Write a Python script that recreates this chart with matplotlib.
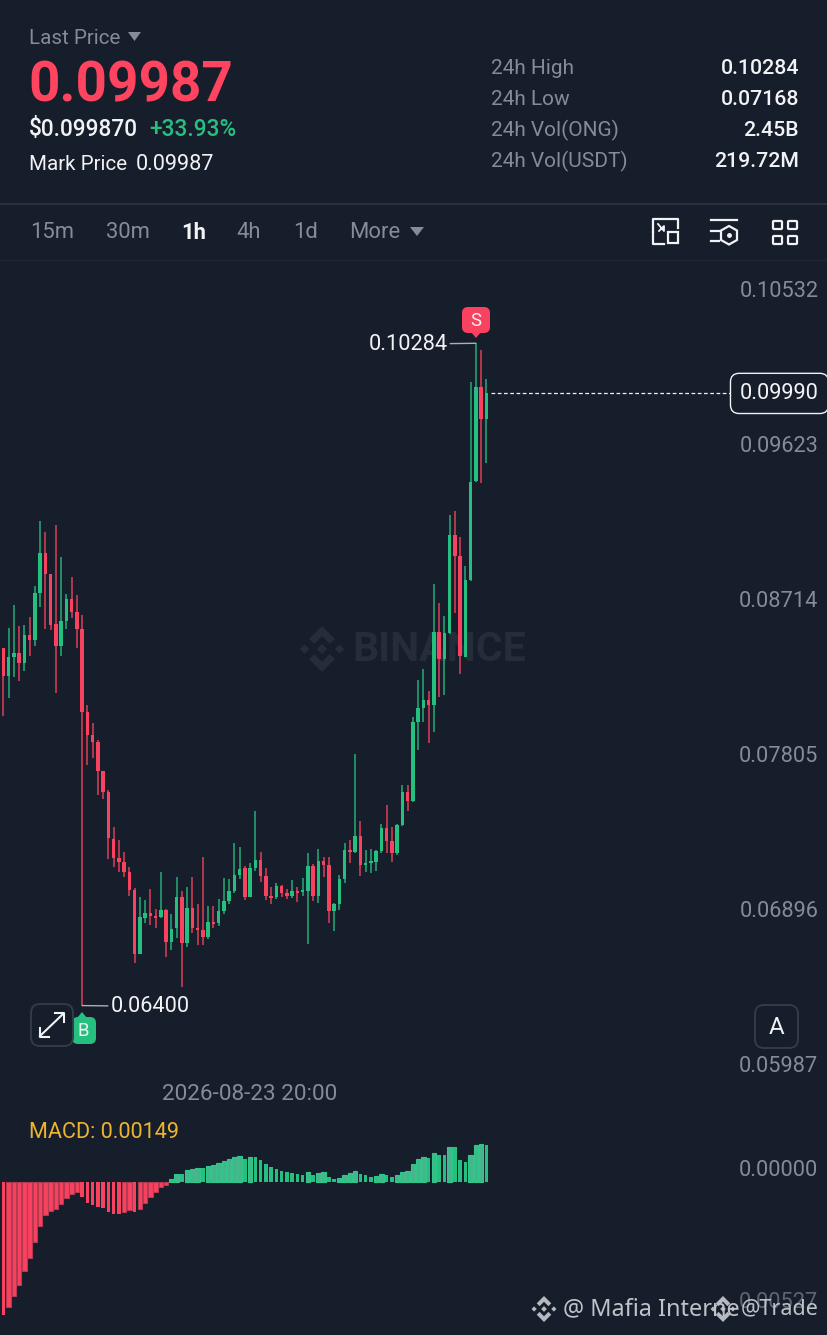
import matplotlib
matplotlib.use('Agg')
from matplotlib import pyplot as plt
from matplotlib.patches import FancyBboxPatch, Polygon, Rectangle
from matplotlib.transforms import blended_transform_factory
import numpy as np

opens = [.08497,.08333,.08445,.08468,.08409,.08574,.08544,.08820,.09054,.08932,
         .08639,.08509,.08656,.08785,.08708,.08609,.08121,.07987,.07946,.07776,
         .07652,.07377,.07265,.07242,.07183,.07078,.06703,.06914,.06943,.06926,
         .06920,.06961,.06773,.06855,.07037,.06767,.06972,.06855,.06843,.06802,
         .06890,.06884,.06955,.07013,.07072,.07166,.07207,.07037,.07207,.07254,
         .07160,.07043,.07037,.07102,.07060,.07043,.07072,.07066,.07072,.07219,
         .07043,.07248,.07225,.06955,.06996,.07142,.07312,.07300,.07395,.07225,
         .07236,.07242,.07306,.07441,.07365,.07294,.07459,.07652,.07600,.08063,
         .08145,.08192,.08163,.08591,.08433,.08585,.09160,.09037,.08445,.08896,
         .09476,.10027,.09840]
highs = [.08497,.08615,.08750,.08627,.08633,.08679,.08861,.09242,.09177,.08932,
         .09219,.09031,.08815,.08914,.08809,.08691,.08163,.08057,.07958,.07776,
         .07664,.07447,.07371,.07300,.07213,.07090,.07037,.07019,.07084,.06966,
         .07183,.06966,.06938,.07154,.07072,.07096,.07154,.06996,.07271,.06984,
         .06984,.07025,.07148,.07142,.07353,.07330,.07219,.07236,.07541,.07300,
         .07207,.07096,.07119,.07108,.07084,.07137,.07096,.07148,.07294,.07231,
         .07318,.07271,.07271,.07001,.07166,.07353,.07371,.07876,.07482,.07312,
         .07318,.07312,.07465,.07577,.07447,.07465,.07694,.07694,.08092,.08310,
         .08374,.08245,.08873,.08761,.08685,.09277,.09300,.09148,.08978,.10056,
         .10284,.10244,.10074]
lows = [.08098,.08204,.08327,.08304,.08362,.08451,.08509,.08738,.08609,.08603,
        .08233,.08451,.08609,.08673,.08497,.06400,.07811,.07852,.07635,.07611,
        .07259,.07213,.07183,.07154,.07043,.06649,.06703,.06884,.06873,.06855,
        .06914,.06685,.06726,.06796,.06509,.06744,.06825,.06756,.06756,.06790,
        .06855,.06867,.06938,.06996,.07060,.07142,.07019,.07037,.07189,.07125,
        .07019,.06996,.07025,.07037,.07025,.07031,.07007,.07043,.06762,.07013,
        .07001,.07154,.06884,.06837,.06961,.07119,.07236,.07294,.07160,.07183,
        .07177,.07189,.07294,.07294,.07242,.07283,.07453,.07541,.07594,.07899,
        .08063,.07940,.08004,.08210,.08222,.08580,.08702,.08345,.08445,.08890,
        .09470,.09464,.09581]
closes = [.08333,.08445,.08468,.08409,.08574,.08544,.08820,.09054,.08932,.08633,
          .08509,.08656,.08785,.08708,.08609,.08121,.07987,.07946,.07776,.07652,
          .07383,.07265,.07242,.07183,.07078,.06703,.06920,.06943,.06926,.06914,
          .06961,.06773,.06849,.07037,.06767,.06972,.06855,.06843,.06802,.06890,
          .06879,.06955,.07013,.07072,.07166,.07201,.07037,.07207,.07254,.07160,
          .07043,.07031,.07102,.07060,.07043,.07072,.07060,.07078,.07219,.07043,
          .07248,.07225,.06955,.06996,.07142,.07312,.07300,.07395,.07225,.07236,
          .07248,.07306,.07441,.07365,.07294,.07459,.07652,.07600,.08063,.08145,
          .08192,.08163,.08591,.08433,.08585,.09160,.09037,.08451,.08896,.09470,
          .10027,.09840,.09990]
macd = [-.00531,-.00497,-.00454,-.00411,-.00355,-.00305,-.00241,-.00176,-.00132,-.00116,
        -.00109,-.00089,-.00063,-.00048,-.00039,-.00061,-.00082,-.00090,-.00100,-.00105,
        -.00120,-.00128,-.00128,-.00118,-.00112,-.00118,-.00106,-.00082,-.00061,-.00041,
        -.00021,-.00011,.00011,.00031,.00031,.00048,.00053,.00056,.00056,.00065,
        .00069,.00076,.00082,.00090,.00100,.00105,.00093,.00098,.00098,.00088,
        .00072,.00060,.00053,.00045,.00039,.00036,.00032,.00028,.00039,.00028,
        .00037,.00040,.00019,.00011,.00016,.00029,.00035,.00044,.00033,.00028,
        .00021,.00025,.00033,.00028,.00021,.00028,.00041,.00044,.00073,.00090,
        .00101,.00094,.00117,.00108,.00108,.00138,.00138,.00088,.00081,.00108,
        .00149,.00152,.00149]
price_ticks = [.10532, .09623, .08714, .07805, .06896, .05987]
macd_ticks = ['0.00000', '0.00527']
timeframes = ['15m', '30m', '1h', '4h', '1d', 'More']
stat_names = ['24h High', '24h Low', '24h Vol(ONG)', '24h Vol(USDT)']
stat_values = ['0.10284', '0.07168', '2.45B', '219.72M']

BG = '#161D2B'
RED = '#F9425F'
GREEN = '#25C07F'
GRAY = '#848C99'
WHITE = '#F2F3F5'
W, H = 828, 1335
plt.rcParams['font.family'] = ['Roboto', 'DejaVu Sans']


def px(size):
    return size * 0.72


def make_axes(top, bottom):
    a = fig.add_axes([0, 1 - bottom / H, 1, (bottom - top) / H])
    a.set_facecolor('none')
    a.set_xlim(-3.4 / 5.25, (W - 3.4) / 5.25)
    a.axis('off')
    return a


def logo(a, cx, cy, s, color, alpha=1):
    # binance mark, small diamonds and two chevrons
    for dx, r in [(0, .22), (-.76, .2), (.76, .2)]:
        a.add_patch(Polygon([(cx + (dx - r) * s, cy), (cx + dx * s, cy - r * s),
                             (cx + (dx + r) * s, cy), (cx + dx * s, cy + r * s)],
                            color=color, alpha=alpha, lw=0))
    for sign in (-1, 1):
        a.add_patch(Polygon([(cx, cy + sign * s), (cx + .56 * s, cy + sign * .44 * s),
                             (cx + .34 * s, cy + sign * .22 * s), (cx, cy + sign * .56 * s),
                             (cx - .34 * s, cy + sign * .22 * s), (cx - .56 * s, cy + sign * .44 * s)],
                            color=color, alpha=alpha, lw=0))


fig = plt.figure(figsize=(W / 100, H / 100), dpi=100, facecolor=BG)

# page furniture in pixel coordinates
ui = fig.add_axes([0, 0, 1, 1])
ui.set_xlim(0, W)
ui.set_ylim(H, 0)
ui.axis('off')

ui.add_patch(Rectangle((0, 202.5), W, 2, color='#2A3140', lw=0))
ui.add_patch(Rectangle((0, 260), W, 1, color='#222936', lw=0))

ui.text(29, 38, 'Last Price', color=GRAY, fontsize=px(20.5), va='center')
ui.add_patch(Polygon([(128, 32), (141, 32), (134.5, 41)], color=GRAY, lw=0))
ui.text(28, 86, '0.09987', color='#FF4460', fontsize=px(54.8), fontweight='bold', va='center')
ui.text(29, 129, '$0.099870', color=WHITE, fontsize=px(22.6), fontweight='medium', va='center')
ui.text(149, 129, '+33.93%', color=GREEN, fontsize=px(22.6), fontweight='medium', va='center')
ui.text(29, 165, 'Mark Price', color=WHITE, fontsize=px(20.5), va='center')
ui.text(136, 165, '0.09987', color=WHITE, fontsize=px(21.6), va='center')

for i, name in enumerate(stat_names):
    ui.text(491, 69 + i * 30.7, name, color=GRAY, fontsize=px(20.9), va='center')
    ui.text(799, 69 + i * 30.7, stat_values[i], color=WHITE, fontsize=px(21.3),
            fontweight='medium', ha='right', va='center')

for name, x in zip(timeframes, [30, 106, 181, 236, 293, 349]):
    sel = name == '1h'
    ui.text(x, 233, name, color=WHITE if sel else GRAY, fontsize=px(22),
            fontweight='bold' if sel else 'normal', va='center')
ui.add_patch(Polygon([(410, 227), (424, 227), (417, 236)], color=GRAY, lw=0))

# toolbar icons
ic = dict(fill=False, ec=WHITE, lw=1.6)
ui.plot([653, 653, 678, 678], [232, 219, 219, 228], color=WHITE, lw=1.6)
ui.plot([653, 653, 664], [232, 244, 244], color=WHITE, lw=1.6)
ui.plot([658, 664, 664, 659], [224, 231, 226, 231], color=WHITE, lw=1.3)
ui.add_patch(Rectangle((668, 232), 10, 11, **ic))
ui.plot([711, 737], [220, 220], color=WHITE, lw=1.6)
ui.plot([711, 719], [231, 231], color=WHITE, lw=1.6)
ui.plot([711, 719], [241, 241], color=WHITE, lw=1.6)
ui.add_patch(Polygon([(729, 226), (737, 230.5), (737, 240), (729, 244.5), (721, 240), (721, 230.5)], **ic))
ui.plot([729], [235], 'o', color=WHITE, ms=2.5)
for x in (772, 787):
    for y in (220, 235):
        ui.add_patch(FancyBboxPatch((x + 1, y + 1), 9, 8, boxstyle='round,pad=0,rounding_size=1', **ic))

# faint watermark behind the candles
logo(ui, 322, 649, 23, '#252D3B')
ui.text(352, 650, 'BINANCE', color='#252D3B', fontsize=px(41), fontweight='bold', va='center')

# candles
ax = make_axes(261, 1105)
ax.set_ylim(.122972 - 1105 * .000058645, .122972 - 261 * .000058645)
idx = np.arange(len(opens))
colors = [RED if c < o else GREEN for o, c in zip(opens, closes)]
ax.vlines(idx, lows, highs, colors=colors, lw=1.15, alpha=.85)
ax.bar(idx, np.abs(np.array(closes) - np.array(opens)), bottom=np.minimum(opens, closes),
       width=.7, color=colors, lw=0)

for tick in price_ticks:
    ax.annotate(f'{tick:.5f}', xy=(1, tick), xycoords=ax.get_yaxis_transform(), xytext=(-7, 6.7),
                textcoords='offset points', ha='right', va='center', color=GRAY, fontsize=px(21.8))

# last price line and tag
last = closes[-1]
ax.hlines(last, idx[-1] + .8, (731 - 3.4) / 5.25, color=WHITE, lw=.9, linestyles=(0, (3, 2)))
ax.annotate(f'{last:.5f}', xy=(779.5, last), xycoords=blended_transform_factory(ui.transData, ax.transData),
            ha='center', va='center', color=WHITE, fontsize=px(21.8),
            bbox=dict(boxstyle='round,pad=0.44,rounding_size=.4', fc=BG, ec=WHITE, lw=1))

# high and low labels
top_i = int(np.argmax(highs))
low_i = int(np.argmin(lows))
ax.annotate(f'{highs[top_i]:.5f}', xy=(top_i, highs[top_i]), xytext=(-20.5, -.6), textcoords='offset points',
            ha='right', va='center', color=WHITE, fontsize=px(21.8),
            arrowprops=dict(arrowstyle='-', color='#AAB0B8', lw=1, shrinkA=0, shrinkB=0))
ax.annotate(f'{lows[low_i]:.5f}', xy=(low_i, lows[low_i]), xytext=(20.5, -.6), textcoords='offset points',
            ha='left', va='center', color=WHITE, fontsize=px(21.8),
            arrowprops=dict(arrowstyle='-', color='#AAB0B8', lw=1, shrinkA=0, shrinkB=0))

# buy and sell flags
ui.add_patch(FancyBboxPatch((462, 307), 28, 26, boxstyle='round,pad=0,rounding_size=6', fc=RED, ec='none', zorder=5))
ui.add_patch(Polygon([(471, 332), (481, 332), (476, 338)], color=RED, lw=0, zorder=5))
ui.text(476, 321, 'S', color=WHITE, fontsize=px(18.5), ha='center', va='center', zorder=6)
ui.add_patch(FancyBboxPatch((72, 1017), 24, 27, boxstyle='round,pad=0,rounding_size=6', fc=GREEN, ec='none', zorder=5))
ui.add_patch(Polygon([(77, 1018), (87, 1018), (82, 1012)], color=GREEN, lw=0, zorder=5))
ui.text(83, 1031.5, 'B', color=WHITE, fontsize=px(18.5), ha='center', va='center', zorder=6)

# round buttons
ui.add_patch(FancyBboxPatch((31, 1004), 42, 42, boxstyle='round,pad=0,rounding_size=9',
                            fc=BG, ec='#343B48', lw=1.4, zorder=7))
ui.plot([40, 63], [1036, 1014], color=WHITE, lw=1.5, zorder=8)
ui.plot([40, 40, 49], [1028, 1037, 1037], color=WHITE, lw=1.5, zorder=8)
ui.plot([55, 64, 64], [1013, 1013, 1022], color=WHITE, lw=1.5, zorder=8)
ui.add_patch(FancyBboxPatch((755, 1005), 43, 43, boxstyle='round,pad=0,rounding_size=9',
                            fc=BG, ec='#343B48', lw=1.4, zorder=7))
ui.text(776.5, 1027, 'A', color=WHITE, fontsize=px(24), ha='center', va='center', zorder=8)

ui.text(250, 1094, '2026-08-23 20:00', color=GRAY, fontsize=px(22.5), ha='center', va='center')
ui.text(29, 1133, f'MACD: {macd[-1]:.5f}', color='#EDB52E', fontsize=px(21.6), va='center')

# macd histogram, rising bars are outlined
ax2 = make_axes(1110, H)
ax2.set_ylim(-(H - 1182) * .0000399, (1182 - 1110) * .0000399)
rising = [i > 0 and macd[i] > macd[i - 1] for i in idx]
for i, v in enumerate(macd):
    fill = RED if v < 0 else GREEN
    if rising[i]:
        edge = '#B23A52' if v < 0 else '#2CC98A'
        inner = RED if v < 0 else '#45B58C'
        ax2.bar(i, v, width=.88, fc=inner, ec=edge, lw=.8)
    else:
        ax2.bar(i, v, width=.68, color=fill, lw=0)

ax2.annotate(macd_ticks[0], xy=(1, 0), xycoords=ax2.get_yaxis_transform(), xytext=(-7, 8.2),
             textcoords='offset points', ha='right', va='center', color=GRAY, fontsize=px(21.8))
ui.text(818, 1302, macd_ticks[1], color='#5F6672', fontsize=px(21.8), ha='right', va='center', zorder=9)

# repost watermark over the corner
logo(ui, 544, 1309, 13, '#C9CCD1', .9)
ui.text(563, 1309, '@ Mafia Interne', color='#BFC2C8', fontsize=px(23.5), family=['Noto Sans', 'DejaVu Sans'],
        va='center', zorder=10)
logo(ui, 723, 1309, 13, '#C9CCD1', .9)
ui.text(741, 1309, '@Trade', color='#BFC2C8', fontsize=px(21.6), family=['Noto Sans', 'DejaVu Sans'],
        va='center', zorder=10)

fig.savefig('out.png', dpi=100, facecolor=BG)
